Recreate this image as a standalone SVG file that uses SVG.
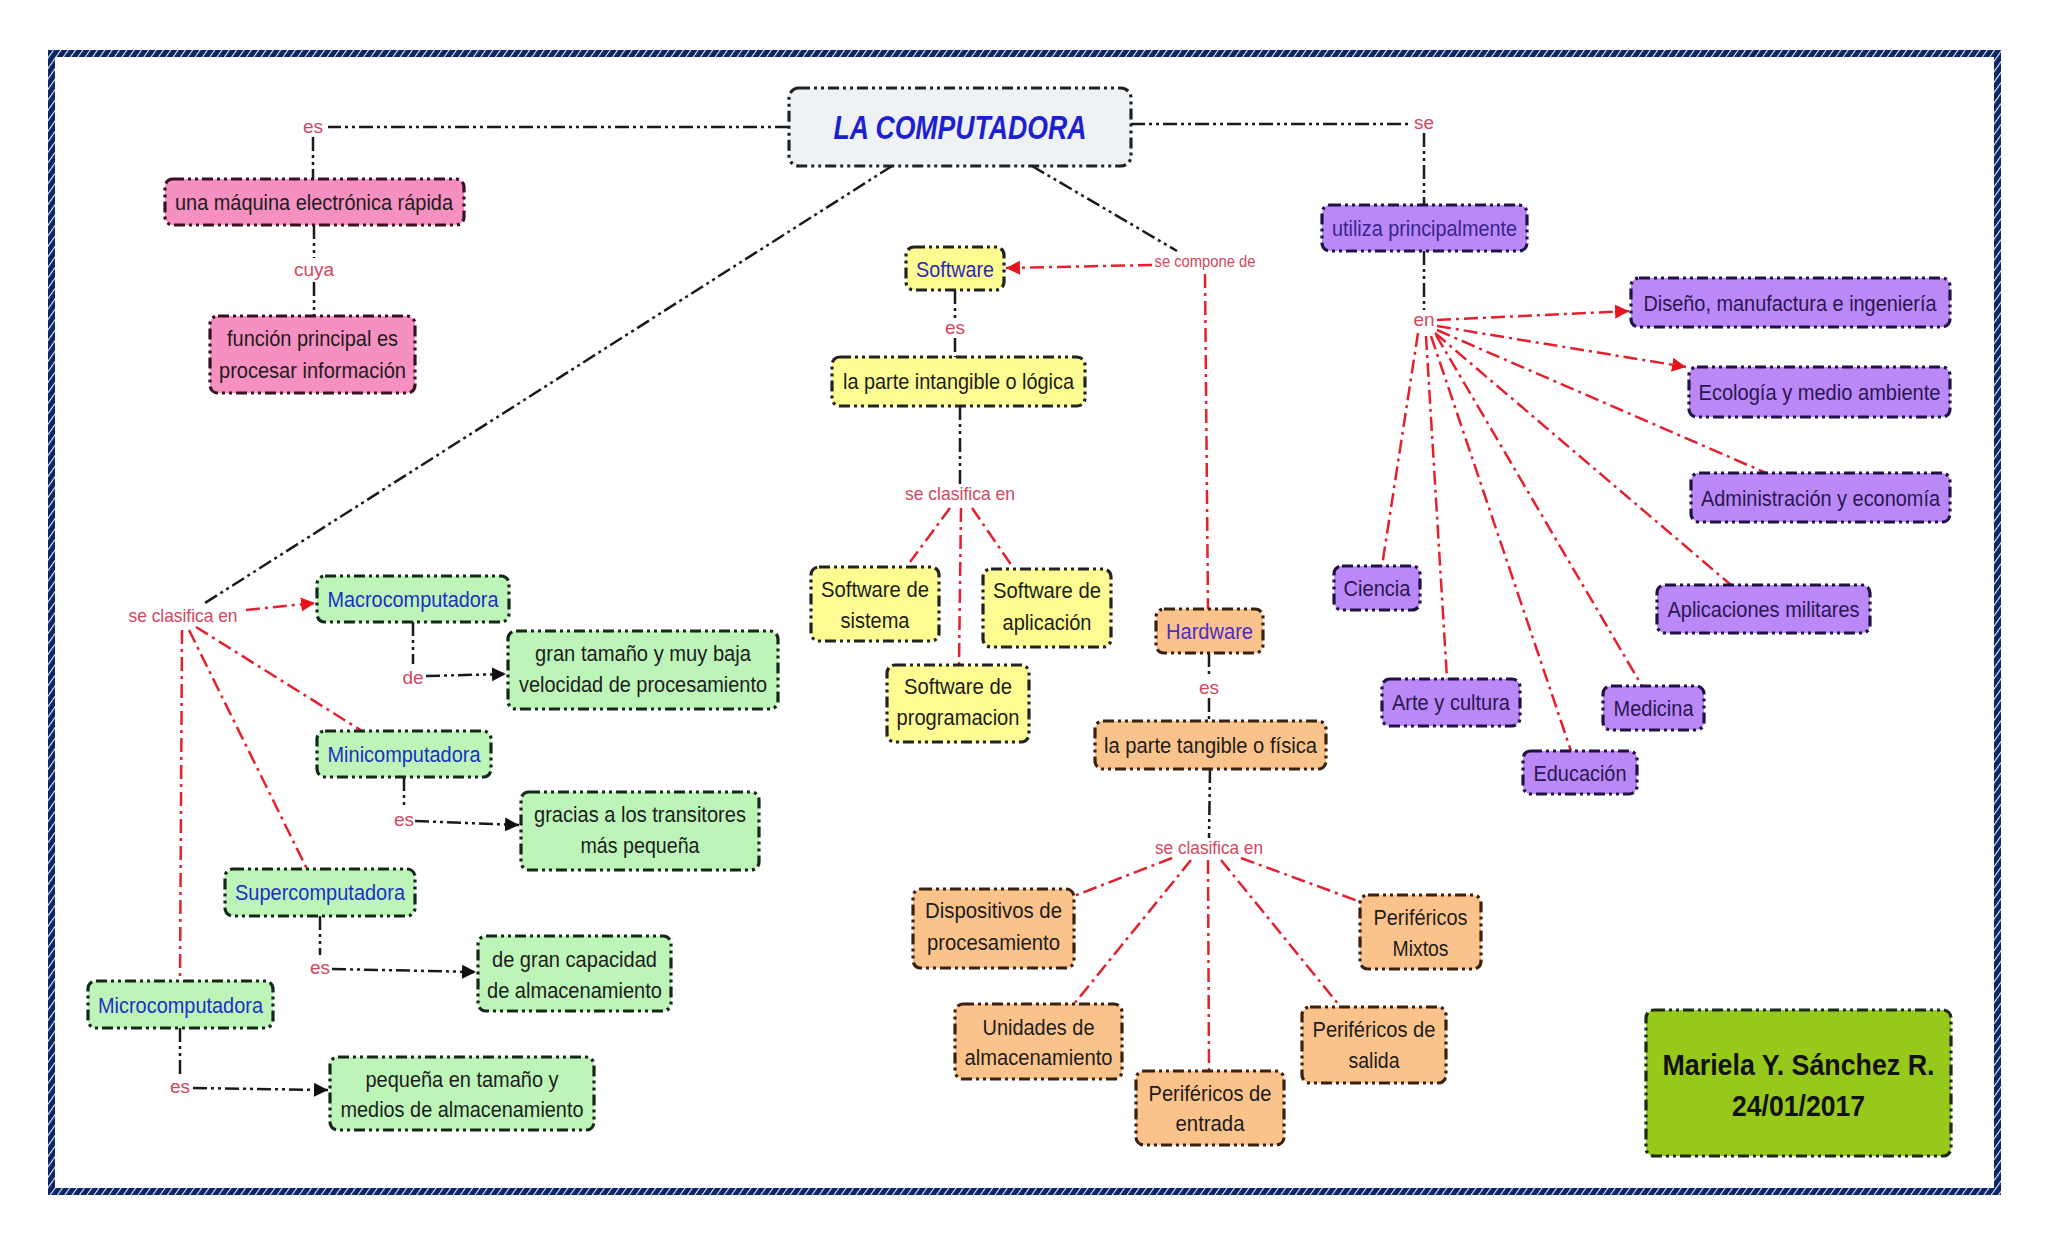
<svg xmlns="http://www.w3.org/2000/svg" width="2048" height="1243" viewBox="0 0 2048 1243">
<defs>
<pattern id="hatch" patternUnits="userSpaceOnUse" width="6" height="6" patternTransform="rotate(35)">
<rect width="6" height="6" fill="#0b2566"/>
<rect x="0" y="0" width="1.1" height="6" fill="#e8ecf5"/>
</pattern>
<marker id="arR" markerUnits="userSpaceOnUse" markerWidth="16" markerHeight="16" refX="14" refY="7" orient="auto">
<path d="M0,0 L14,7 L0,14 Z" fill="#e8141c"/>
</marker>
<marker id="arK" markerUnits="userSpaceOnUse" markerWidth="16" markerHeight="16" refX="14" refY="7" orient="auto">
<path d="M0,0 L14,7 L0,14 Z" fill="#111"/>
</marker>
<style>
text{font-family:"Liberation Sans",Arial,sans-serif;text-anchor:middle}
.box{stroke-width:3.2;stroke-dasharray:11 4 3 4 3 4}
.pk{fill:#f690c0;stroke:#3a0f24}
.pu{fill:#bb89f7;stroke:#1f1245}
.ye{fill:#fcfc93;stroke:#222}
.or{fill:#fbc38c;stroke:#3a2010}
.gr{fill:#bdf5b9;stroke:#15261a}
.t{font-size:22px;fill:#1c1c1c}
.tp{font-size:22px;fill:#2a1650}
.tb{font-size:22px;fill:#1d2fc4}
.lb{font-size:19px;fill:#d2475e}
.k{fill:none;stroke:#1a1a1a;stroke-width:2.5;stroke-dasharray:14 4 3 4 3 4}
.r{fill:none;stroke:#e5202e;stroke-width:2.5;stroke-dasharray:14 5 3 5}
</style>
</defs>
<rect width="2048" height="1243" fill="#fff"/>
<rect x="51.5" y="53.5" width="1946" height="1138" fill="none" stroke="url(#hatch)" stroke-width="7"/>

<g id="connectors">
<path class="k" d="M789,127 L328,127"/>
<path class="k" d="M313,137 L313,179"/>
<path class="k" d="M314,225 L314,258"/>
<path class="k" d="M314,282 L314,316"/>
<path class="k" d="M892,166 L205,603"/>
<path class="k" d="M1032,166 L1177,251"/>
<path class="k" d="M1131,124 L1410,124"/>
<path class="k" d="M1424,133 L1424,205"/>
<path class="k" d="M1424,251 L1424,310"/>
<path class="k" d="M955,290 L955,318"/>
<path class="k" d="M955,338 L955,357"/>
<path class="k" d="M960,406 L960,484"/>
<path class="k" d="M1209,653 L1209,677"/>
<path class="k" d="M1209,698 L1209,721"/>
<path class="k" d="M1210,769 L1209,838"/>
<path class="k" d="M413,622 L413,664"/>
<path class="k" d="M426,676 L506,674" marker-end="url(#arK)"/>
<path class="k" d="M404,777 L404,808"/>
<path class="k" d="M415,821 L519,825" marker-end="url(#arK)"/>
<path class="k" d="M320,916 L320,955"/>
<path class="k" d="M332,969 L476,972" marker-end="url(#arK)"/>
<path class="k" d="M180,1028 L180,1074"/>
<path class="k" d="M193,1088 L328,1090" marker-end="url(#arK)"/>

<path class="r" d="M1152,265 L1006,268" marker-end="url(#arR)"/>
<path class="r" d="M1205,274 L1208,609"/>
<path class="r" d="M950,508 L910,562"/>
<path class="r" d="M972,508 L1012,566"/>
<path class="r" d="M961,508 L959,665"/>
<path class="r" d="M1172,858 L1074,896"/>
<path class="r" d="M1191,860 L1074,1004"/>
<path class="r" d="M1208,860 L1209,1071"/>
<path class="r" d="M1221,860 L1339,1005"/>
<path class="r" d="M1241,858 L1358,901"/>
<path class="r" d="M246,610 L315,603" marker-end="url(#arR)"/>
<path class="r" d="M196,627 L362,731"/>
<path class="r" d="M189,630 L307,869"/>
<path class="r" d="M182,630 L180,981"/>
<path class="r" d="M1437,320 L1629,311" marker-end="url(#arR)"/>
<path class="r" d="M1437,326 L1686,367" marker-end="url(#arR)"/>
<path class="r" d="M1437,330 L1766,473"/>
<path class="r" d="M1435,333 L1731,585"/>
<path class="r" d="M1418,333 L1382,566"/>
<path class="r" d="M1426,336 L1447,679"/>
<path class="r" d="M1431,336 L1571,751"/>
<path class="r" d="M1436,335 L1642,686"/>
</g>

<g id="labels">
<text class="lb" x="313" y="133">es</text>
<text class="lb" x="314" y="276">cuya</text>
<text class="lb" x="1424" y="129">se</text>
<text class="lb" x="1424" y="326">en</text>
<text class="lb" x="1205" y="267" style="font-size:16px" textLength="101" lengthAdjust="spacingAndGlyphs">se compone de</text>
<text class="lb" x="955" y="334">es</text>
<text class="lb" x="960" y="500" textLength="110" lengthAdjust="spacingAndGlyphs">se clasifica en</text>
<text class="lb" x="1209" y="694">es</text>
<text class="lb" x="1209" y="854" textLength="108" lengthAdjust="spacingAndGlyphs">se clasifica en</text>
<text class="lb" x="183" y="622" textLength="109" lengthAdjust="spacingAndGlyphs">se clasifica en</text>
<text class="lb" x="413" y="684">de</text>
<text class="lb" x="404" y="826">es</text>
<text class="lb" x="320" y="974">es</text>
<text class="lb" x="180" y="1093">es</text>
</g>

<g id="n-computadora">
<rect x="789" y="88" width="342" height="78" rx="10" fill="#eef2f5" stroke="#222" class="box"/>
<text x="960" y="139" style="font-size:33px;font-weight:bold;font-style:italic;fill:#1f1fd2" textLength="253" lengthAdjust="spacingAndGlyphs">LA COMPUTADORA</text>
</g>
<g id="n-maquina">
<rect x="165" y="179" width="299" height="46" rx="8" class="box pk"/>
<text class="t" x="314" y="210" textLength="278" lengthAdjust="spacingAndGlyphs">una máquina electrónica rápida</text>
</g>
<g id="n-funcion">
<rect x="210" y="316" width="205" height="77" rx="8" class="box pk"/>
<text class="t" x="312.5" y="346" textLength="171" lengthAdjust="spacingAndGlyphs">función principal es</text>
<text class="t" x="312.5" y="378" textLength="187" lengthAdjust="spacingAndGlyphs">procesar información</text>
</g>
<g id="n-utiliza">
<rect x="1322" y="205" width="205" height="46" rx="8" class="box pu"/>
<text class="tp" x="1424.5" y="236" style="fill:#3a2490" textLength="185" lengthAdjust="spacingAndGlyphs">utiliza principalmente</text>
</g>
<g id="n-diseno">
<rect x="1631" y="278" width="319" height="49" rx="8" class="box pu"/>
<text class="tp" x="1790" y="311" textLength="293" lengthAdjust="spacingAndGlyphs">Diseño, manufactura e ingeniería</text>
</g>
<g id="n-ecologia">
<rect x="1689" y="367" width="261" height="50" rx="8" class="box pu"/>
<text class="tp" x="1819.5" y="400" textLength="242" lengthAdjust="spacingAndGlyphs">Ecología y medio ambiente</text>
</g>
<g id="n-administracion">
<rect x="1691" y="473" width="259" height="49" rx="8" class="box pu"/>
<text class="tp" x="1820.5" y="506" textLength="239" lengthAdjust="spacingAndGlyphs">Administración y economía</text>
</g>
<g id="n-militares">
<rect x="1657" y="585" width="213" height="48" rx="8" class="box pu"/>
<text class="tp" x="1763.5" y="617" textLength="192" lengthAdjust="spacingAndGlyphs">Aplicaciones militares</text>
</g>
<g id="n-ciencia">
<rect x="1334" y="566" width="86" height="44" rx="8" class="box pu"/>
<text class="tp" x="1377" y="596" textLength="67" lengthAdjust="spacingAndGlyphs">Ciencia</text>
</g>
<g id="n-arte">
<rect x="1382" y="679" width="138" height="47" rx="8" class="box pu"/>
<text class="tp" x="1451" y="710" textLength="118" lengthAdjust="spacingAndGlyphs">Arte y cultura</text>
</g>
<g id="n-educacion">
<rect x="1523" y="751" width="114" height="43" rx="8" class="box pu"/>
<text class="tp" x="1580" y="781" textLength="93" lengthAdjust="spacingAndGlyphs">Educación</text>
</g>
<g id="n-medicina">
<rect x="1603" y="686" width="101" height="44" rx="8" class="box pu"/>
<text class="tp" x="1653.5" y="716" textLength="80" lengthAdjust="spacingAndGlyphs">Medicina</text>
</g>
<g id="n-software">
<rect x="906" y="247" width="98" height="43" rx="8" class="box ye"/>
<text class="tb" x="955" y="277" style="fill:#2b2bb8" textLength="78" lengthAdjust="spacingAndGlyphs">Software</text>
</g>
<g id="n-intangible">
<rect x="832" y="357" width="253" height="49" rx="8" class="box ye"/>
<text class="t" x="958.5" y="389" textLength="231" lengthAdjust="spacingAndGlyphs">la parte intangible o lógica</text>
</g>
<g id="n-sw-sistema">
<rect x="811" y="567" width="128" height="74" rx="8" class="box ye"/>
<text class="t" x="875" y="597" textLength="108" lengthAdjust="spacingAndGlyphs">Software de</text>
<text class="t" x="875" y="628" textLength="69" lengthAdjust="spacingAndGlyphs">sistema</text>
</g>
<g id="n-sw-aplicacion">
<rect x="983" y="569" width="128" height="78" rx="8" class="box ye"/>
<text class="t" x="1047" y="598" textLength="108" lengthAdjust="spacingAndGlyphs">Software de</text>
<text class="t" x="1047" y="630" textLength="89" lengthAdjust="spacingAndGlyphs">aplicación</text>
</g>
<g id="n-sw-programacion">
<rect x="887" y="665" width="142" height="77" rx="8" class="box ye"/>
<text class="t" x="958" y="694" textLength="108" lengthAdjust="spacingAndGlyphs">Software de</text>
<text class="t" x="958" y="725" textLength="123" lengthAdjust="spacingAndGlyphs">programacion</text>
</g>
<g id="n-hardware">
<rect x="1156" y="609" width="107" height="44" rx="8" class="box or"/>
<text class="tb" x="1209.5" y="639" style="fill:#4a2ec6" textLength="87" lengthAdjust="spacingAndGlyphs">Hardware</text>
</g>
<g id="n-tangible">
<rect x="1095" y="721" width="231" height="48" rx="8" class="box or"/>
<text class="t" x="1210.5" y="753" textLength="213" lengthAdjust="spacingAndGlyphs">la parte tangible o física</text>
</g>
<g id="n-dispositivos">
<rect x="913" y="889" width="161" height="79" rx="8" class="box or"/>
<text class="t" x="993.5" y="918" textLength="137" lengthAdjust="spacingAndGlyphs">Dispositivos de</text>
<text class="t" x="993.5" y="950" textLength="133" lengthAdjust="spacingAndGlyphs">procesamiento</text>
</g>
<g id="n-unidades">
<rect x="955" y="1004" width="167" height="75" rx="8" class="box or"/>
<text class="t" x="1038.5" y="1035" textLength="112" lengthAdjust="spacingAndGlyphs">Unidades de</text>
<text class="t" x="1038.5" y="1065" textLength="148" lengthAdjust="spacingAndGlyphs">almacenamiento</text>
</g>
<g id="n-entrada">
<rect x="1136" y="1071" width="148" height="74" rx="8" class="box or"/>
<text class="t" x="1210" y="1101" textLength="123" lengthAdjust="spacingAndGlyphs">Periféricos de</text>
<text class="t" x="1210" y="1131" textLength="69" lengthAdjust="spacingAndGlyphs">entrada</text>
</g>
<g id="n-salida">
<rect x="1302" y="1007" width="144" height="76" rx="8" class="box or"/>
<text class="t" x="1374" y="1037" textLength="123" lengthAdjust="spacingAndGlyphs">Periféricos de</text>
<text class="t" x="1374" y="1068" textLength="51" lengthAdjust="spacingAndGlyphs">salida</text>
</g>
<g id="n-mixtos">
<rect x="1360" y="895" width="121" height="74" rx="8" class="box or"/>
<text class="t" x="1420.5" y="925" textLength="94" lengthAdjust="spacingAndGlyphs">Periféricos</text>
<text class="t" x="1420.5" y="956" textLength="56" lengthAdjust="spacingAndGlyphs">Mixtos</text>
</g>
<g id="n-macro">
<rect x="317" y="576" width="192" height="46" rx="8" class="box gr"/>
<text class="tb" x="413" y="607" textLength="171" lengthAdjust="spacingAndGlyphs">Macrocomputadora</text>
</g>
<g id="n-gran">
<rect x="508" y="631" width="270" height="78" rx="8" class="box gr"/>
<text class="t" x="643" y="661" textLength="216" lengthAdjust="spacingAndGlyphs">gran tamaño y muy baja</text>
<text class="t" x="643" y="692" textLength="248" lengthAdjust="spacingAndGlyphs">velocidad de procesamiento</text>
</g>
<g id="n-mini">
<rect x="317" y="731" width="174" height="46" rx="8" class="box gr"/>
<text class="tb" x="404" y="762" textLength="153" lengthAdjust="spacingAndGlyphs">Minicomputadora</text>
</g>
<g id="n-gracias">
<rect x="521" y="792" width="238" height="78" rx="8" class="box gr"/>
<text class="t" x="640" y="822" textLength="212" lengthAdjust="spacingAndGlyphs">gracias a los transitores</text>
<text class="t" x="640" y="853" textLength="119" lengthAdjust="spacingAndGlyphs">más pequeña</text>
</g>
<g id="n-super">
<rect x="225" y="869" width="190" height="47" rx="8" class="box gr"/>
<text class="tb" x="320" y="900" textLength="170" lengthAdjust="spacingAndGlyphs">Supercomputadora</text>
</g>
<g id="n-capacidad">
<rect x="478" y="936" width="193" height="75" rx="8" class="box gr"/>
<text class="t" x="574.5" y="967" textLength="165" lengthAdjust="spacingAndGlyphs">de gran capacidad</text>
<text class="t" x="574.5" y="998" textLength="175" lengthAdjust="spacingAndGlyphs">de almacenamiento</text>
</g>
<g id="n-micro">
<rect x="88" y="981" width="185" height="47" rx="8" class="box gr"/>
<text class="tb" x="180.5" y="1013" textLength="165" lengthAdjust="spacingAndGlyphs">Microcomputadora</text>
</g>
<g id="n-pequena">
<rect x="330" y="1057" width="264" height="73" rx="8" class="box gr"/>
<text class="t" x="462" y="1087" textLength="193" lengthAdjust="spacingAndGlyphs">pequeña en tamaño y</text>
<text class="t" x="462" y="1117" textLength="243" lengthAdjust="spacingAndGlyphs">medios de almacenamiento</text>
</g>
<g id="n-autor">
<rect x="1646" y="1010" width="305" height="146" rx="8" fill="#97c81c" stroke="#1c2a10" class="box"/>
<text x="1798.5" y="1075" style="font-size:29px;font-weight:bold;fill:#111" textLength="272" lengthAdjust="spacingAndGlyphs">Mariela Y. Sánchez R.</text>
<text x="1798.5" y="1116" style="font-size:29px;font-weight:bold;fill:#111" textLength="133" lengthAdjust="spacingAndGlyphs">24/01/2017</text>
</g>
</svg>
